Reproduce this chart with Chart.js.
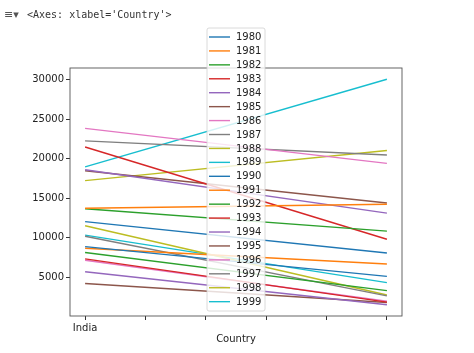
<!DOCTYPE html>
<html>
<head>
<meta charset="utf-8">
<script src="https://cdn.jsdelivr.net/npm/chart.js@4"></script>
<style>
  body { margin: 0; background: #fff; }
  #wrap { position: relative; width: 474px; height: 353px; }
  #hdr { position: absolute; left: 27px; top: 9px; font: 10px "DejaVu Sans Mono", monospace; color: #333; }
  #ico { position: absolute; left: 4px; top: 8px; font: 11px "DejaVu Sans", sans-serif; color: #555; }
  canvas { position: absolute; left: 0; top: 0; }
</style>
</head>
<body>
<div id="wrap">
  <canvas id="lineChart" width="474" height="353"></canvas>
  <div id="ico">&#8801;&#9662;</div>
  <div id="hdr">&lt;Axes: xlabel='Country'&gt;</div>
</div>
<script>
// du lieu: nhap cu Canada, India vs China
const countries = ["India", "China"];
const years = ["1980","1981","1982","1983","1984","1985","1986","1987","1988","1989",
               "1990","1991","1992","1993","1994","1995","1996","1997","1998","1999"];
const india = [8880, 8670, 8147, 7338, 5704, 4211, 7150, 10189, 11522, 10343,
               12041, 13734, 13673, 21496, 18620, 18489, 23859, 22268, 17241, 18974];
const china = [5123, 6682, 3308, 1863, 1527, 1816, 1960, 2643, 2758, 4323,
               8076, 14255, 10846, 9817, 13128, 14398, 19415, 20475, 21049, 30069];
const xTicks = [0, 0.2, 0.4, 0.6, 0.8, 1.0];
const yTicks = [5000, 10000, 15000, 20000, 25000, 30000];
const colors = ["#1f77b4","#ff7f0e","#2ca02c","#d62728","#9467bd",
                "#8c564b","#e377c2","#7f7f7f","#bcbd22","#17becf"];

const FONT = { family: "'DejaVu Sans', sans-serif", size: 10 };

const datasets = years.map((y, i) => ({
  label: y,
  data: [{ x: 0, y: india[i] }, { x: 1, y: china[i] }],
  borderColor: colors[i % 10],
  backgroundColor: colors[i % 10],
  borderWidth: 1.4,
  pointRadius: 0,
  fill: false,
}));

// khung 4 canh + legend kieu matplotlib
const boxPlugin = {
  id: "box",
  afterDatasetsDraw(chart) {
    const { ctx, chartArea: a } = chart;
    ctx.save();
    ctx.strokeStyle = "#555";
    ctx.lineWidth = 0.9;
    ctx.strokeRect(a.left, a.top, a.right - a.left, a.bottom - a.top);

    // legend
    const lx = 207, ly = 28, lw = 58, lh = 283;
    ctx.fillStyle = "rgba(255,255,255,0.8)";
    ctx.strokeStyle = "#d0d0d0";
    ctx.lineWidth = 0.8;
    ctx.beginPath();
    ctx.roundRect(lx, ly, lw, lh, 2);
    ctx.fill();
    ctx.stroke();
    ctx.font = "10px 'DejaVu Sans', sans-serif";
    ctx.textBaseline = "middle";
    chart.data.datasets.forEach((ds, i) => {
      const yy = 37 + i * 13.93;
      ctx.strokeStyle = ds.borderColor;
      ctx.lineWidth = 1.4;
      ctx.beginPath();
      ctx.moveTo(209, yy);
      ctx.lineTo(230, yy);
      ctx.stroke();
      ctx.fillStyle = "#222";
      ctx.fillText(ds.label, 236, yy + 0.5);
    });
    ctx.restore();
  },
};

new Chart(document.getElementById("lineChart"), {
  type: "line",
  data: { datasets },
  options: {
    responsive: false,
    animation: false,
    layout: { padding: { left: 0, top: 68, right: 72, bottom: 0 } },
    plugins: { legend: { display: false }, tooltip: { enabled: false } },
    scales: {
      x: {
        type: "linear",
        min: -0.05,
        max: 1.05,
        afterFit: (s) => { s.height = 353 - 316; },
        afterBuildTicks: (s) => { s.ticks = xTicks.map((v) => ({ value: v })); },
        grid: { drawOnChartArea: false, tickLength: 4, color: "#333" },
        border: { display: false },
        ticks: {
          font: FONT, color: "#222", padding: 2, maxRotation: 0,
          callback: (v) => (v === 0 ? countries[0] : ""),
        },
        title: { display: true, text: "Country", font: FONT, color: "#222", padding: { top: 0, bottom: 8 } },
      },
      y: {
        min: 100,
        max: 31496,
        afterFit: (s) => { s.width = 70; },
        afterBuildTicks: (s) => { s.ticks = yTicks.map((v) => ({ value: v })); },
        grid: { drawOnChartArea: false, tickLength: 4, color: "#333" },
        border: { display: false },
        ticks: { font: FONT, color: "#222", padding: 2, callback: (v) => String(v) },
      },
    },
  },
  plugins: [boxPlugin],
});
</script>
</body>
</html>
